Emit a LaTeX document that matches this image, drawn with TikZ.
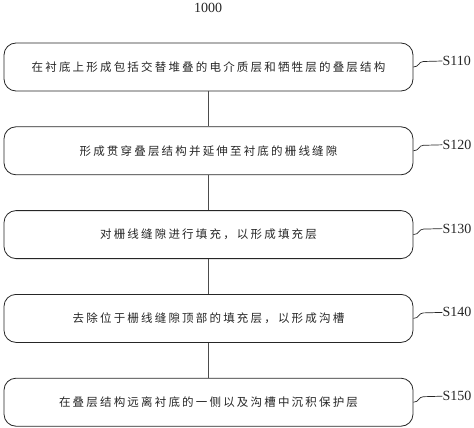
\documentclass[tikz,border=0pt]{standalone}
\usepackage{fontspec}
\setmainfont{Liberation Serif}
\newfontfamily\cjkfont[LetterSpace=19]{Noto Sans CJK SC}
\usetikzlibrary{positioning}

\begin{document}
\begin{tikzpicture}[
            x=1pt, y=-1pt,
            stepNode/.style={draw=black!85, line width=0.8pt, rectangle, rounded corners=12pt, minimum width=409pt, minimum height=48pt, inner sep=0pt, font=\cjkfont\fontsize{11.5pt}{13pt}\selectfont, text=black!85},
            stepLabel/.style={anchor=west, inner sep=0pt, font=\fontsize{14pt}{16pt}\selectfont, text=black!85},
            node distance=35pt
        ]
        \useasboundingbox (0,0) rectangle (474,428);

        \node [inner sep=0pt, font=\fontsize{14pt}{16pt}\selectfont, text=black!85] (title) at (208,7.5) {1000};

        \node [stepNode] (s110) at (208.5,67) {在衬底上形成包括交替堆叠的电介质层和牺牲层的叠层结构};
        \node [stepNode, below=of s110] (s120) {形成贯穿叠层结构并延伸至衬底的栅线缝隙};
        \node [stepNode, below=of s120] (s130) {对栅线缝隙进行填充，以形成填充层};
        \node [stepNode, below=of s130] (s140) {去除位于栅线缝隙顶部的填充层，以形成沟槽};
        \node [stepNode, below=of s140] (s150) {在叠层结构远离衬底的一侧以及沟槽中沉积保护层};

        \draw [draw=black!70, line width=0.6pt] (s110) -- (s120);
        \draw [draw=black!70, line width=0.6pt] (s120) -- (s130);
        \draw [draw=black!70, line width=0.6pt] (s130) -- (s140);
        \draw [draw=black!70, line width=0.6pt] (s140) -- (s150);

        % step labels
        \foreach \s in {110,120,130,140,150} {
            \node [stepLabel] (l\s) at ([xshift=29pt, yshift=6pt]s\s.east) {S\s};
            \draw [draw=black!85, line width=0.7pt] (s\s.east) .. controls +(6,0) and +(-5,0) .. ([xshift=10pt, yshift=5.5pt]s\s.east) -- (l\s.west);
        }

    \end{tikzpicture}
\end{document}
